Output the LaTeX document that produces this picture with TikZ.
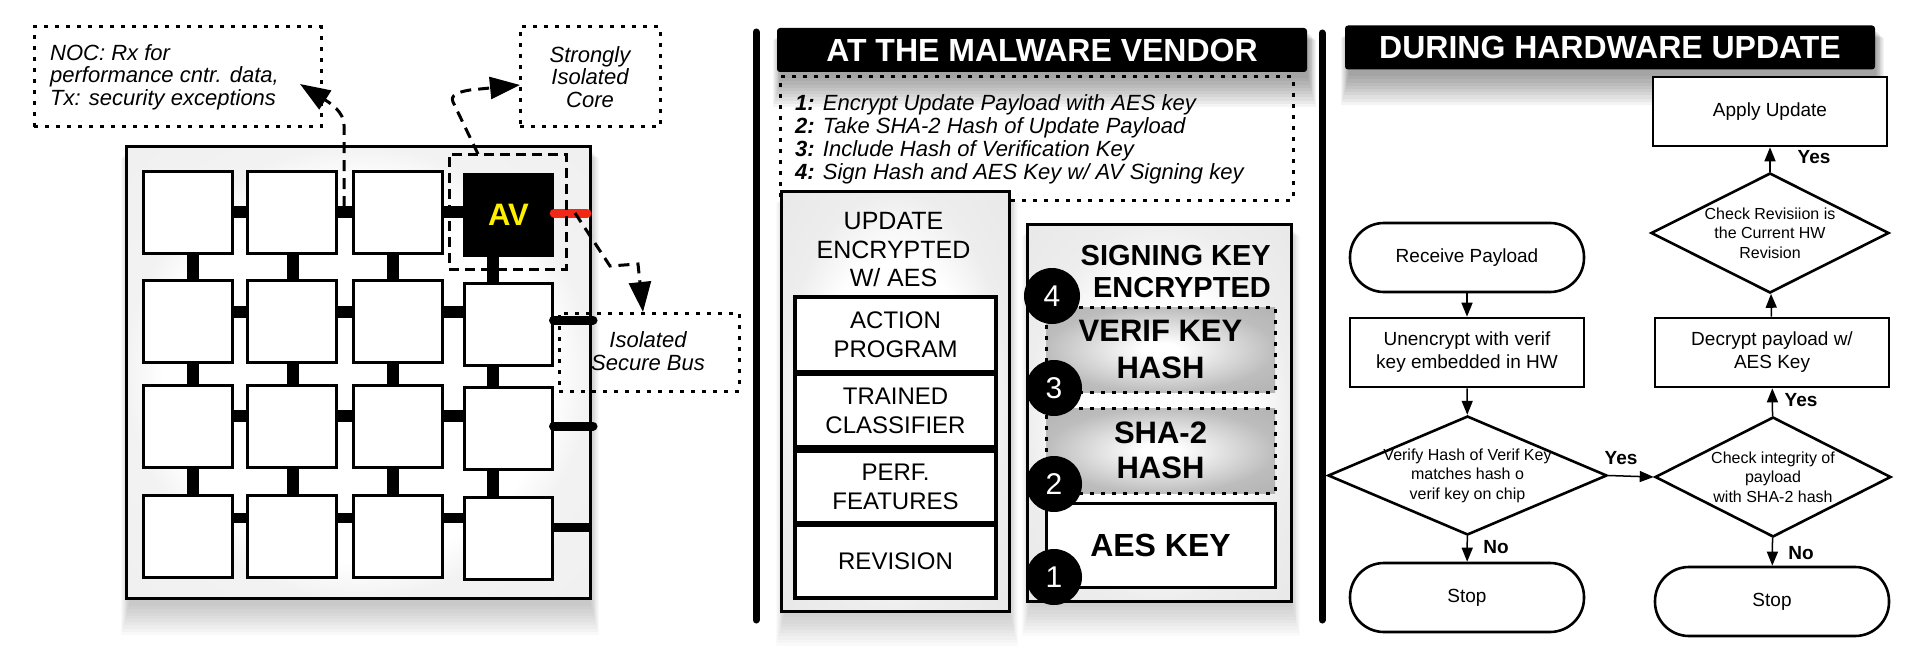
\documentclass[tikz,border=0pt]{standalone}
\usepackage{fontspec}
\setmainfont{Liberation Sans}
\usetikzlibrary{arrows.meta,shapes.geometric}
\newcommand\fsz[2]{\fontsize{#1}{#2}\selectfont}
\newcommand\softshadow[5]{%
  \foreach \k in {1,...,10}{\fill[black,opacity=#5] (#1-\k*0.9,#2+\k*0.8) rectangle (#3+\k*0.9,#4+3+\k*3.2);}}
\definecolor{avyellow}{RGB}{255,240,0}
\definecolor{busred}{RGB}{240,40,20}
\pgfdeclareradialshading{chipglow}{\pgfpoint{0bp}{0bp}}{color(0bp)=(white); color(21bp)=(white); color(25bp)=(black!5); color(36bp)=(black!6); color(50bp)=(black!6)}
\pgfdeclareradialshading{boxglow}{\pgfpoint{0bp}{0bp}}{color(0bp)=(white); color(17bp)=(white); color(25bp)=(black!7); color(36bp)=(black!9); color(50bp)=(black!9)}
\pgfdeclareradialshading{keyshade}{\pgfpoint{0bp}{0bp}}{color(0bp)=(white); color(4bp)=(white); color(25bp)=(black!26); color(36bp)=(black!30); color(50bp)=(black!30)}
\begin{document}
\begin{tikzpicture}[x=1pt,y=-1pt,
  chipbox/.style={draw, line width=3, minimum width=464, minimum height=452, inner sep=0, shade, shading=chipglow},
  core/.style={draw, line width=3, fill=white, minimum width=89, minimum height=82, inner sep=0},
  link/.style={line width=12},
  stub/.style={line width=9, line cap=round},
  dotbox/.style={draw, line width=3, dash pattern=on 4 off 7, inner sep=0},
  dasharr/.style={line width=3, dash pattern=on 11 off 7, -{Triangle[length=30,width=22]}},
  itxt/.style={inner sep=0, font=\itshape\fsz{22}{22.5}},
  titlebar/.style={fill=black, rounded corners=3, minimum width=530, minimum height=44, inner sep=0, text=white, font=\bfseries\fsz{32}{34}},
  ubox/.style={draw, line width=3.5, fill=white, minimum width=201, inner sep=0, align=center, font=\fsz{24}{29}},
  numc/.style={circle, fill=black, minimum size=56, inner sep=0, text=white, font=\fsz{30}{30}},
  fbox/.style={draw, line width=2.6, fill=white, minimum width=234, minimum height=69, inner sep=0, align=center, font=\fsz{19}{23}},
  fterm/.style={fbox, rounded corners=34},
  fdia/.style={draw, diamond, line width=2.6, fill=white, inner sep=0},
  ftxt/.style={align=center, inner sep=0, font=\fsz{16}{19.5}},
  farr/.style={line width=1.5, -{Triangle[length=14,width=11]}},
  flab/.style={inner sep=0, font=\bfseries\fsz{19}{20}}
]
\useasboundingbox (0,0) rectangle (1905,658);

% ================= LEFT: chip =================
\softshadow{130}{150}{590}{600}{0.022}
\node[chipbox] (chip) at (358,372) {};

% cores
\node[core] (c11) at (187.5,212) {};
\node[core] (c12) at (291.5,212) {};
\node[core] (c13) at (398,212) {};
\node[fill=black, minimum width=91, minimum height=84, inner sep=0, text=avyellow, font=\bfseries\fsz{31}{31}] (av) at (508.5,215) {AV};
\node[core] (c21) at (187.5,321.5) {};
\node[core] (c22) at (291.5,321.5) {};
\node[core] (c23) at (398,321.5) {};
\node[core, minimum width=88] (c24) at (508,324.5) {};
\node[core] (c31) at (187.5,426) {};
\node[core] (c32) at (291.5,426) {};
\node[core] (c33) at (398,426) {};
\node[core, minimum width=88] (c34) at (508,428.5) {};
\node[core] (c41) at (187.5,536) {};
\node[core] (c42) at (291.5,536) {};
\node[core] (c43) at (398,536) {};
\node[core, minimum width=88] (c44) at (508,538.5) {};

\coordinate (h1) at (0,212);
\coordinate (h2) at (0,312);
\coordinate (h3) at (0,416);
\coordinate (h4) at (0,518);
\coordinate (v1) at (193,0);
\coordinate (v2) at (293,0);
\coordinate (v3) at (393,0);
\coordinate (v4) at (493,0);

% horizontal links
\draw[link] (c11.east |- h1) -- (c12.west |- h1);
\draw[link] (c12.east |- h1) -- (c13.west |- h1);
\draw[link] (c13.east |- h1) -- (av.west |- h1);
\draw[link] (c21.east |- h2) -- (c22.west |- h2);
\draw[link] (c22.east |- h2) -- (c23.west |- h2);
\draw[link] (c23.east |- h2) -- (c24.west |- h2);
\draw[link] (c31.east |- h3) -- (c32.west |- h3);
\draw[link] (c32.east |- h3) -- (c33.west |- h3);
\draw[link] (c33.east |- h3) -- (c34.west |- h3);
\draw[link, line width=10] (c41.east |- h4) -- (c42.west |- h4);
\draw[link, line width=10] (c42.east |- h4) -- (c43.west |- h4);
\draw[link, line width=10] (c43.east |- h4) -- (c44.west |- h4);
% vertical links
\draw[link] (c11.south -| v1) -- (c21.north -| v1);
\draw[link] (c12.south -| v2) -- (c22.north -| v2);
\draw[link] (c13.south -| v3) -- (c23.north -| v3);
\draw[link] (av.south -| v4) -- (c24.north -| v4);
\draw[link] (c21.south -| v1) -- (c31.north -| v1);
\draw[link] (c22.south -| v2) -- (c32.north -| v2);
\draw[link] (c23.south -| v3) -- (c33.north -| v3);
\draw[link] (c24.south -| v4) -- (c34.north -| v4);
\draw[link] (c31.south -| v1) -- (c41.north -| v1);
\draw[link] (c32.south -| v2) -- (c42.north -| v2);
\draw[link] (c33.south -| v3) -- (c43.north -| v3);
\draw[link] (c34.south -| v4) -- (c44.north -| v4);

% bus stubs
\coordinate (s1) at (587,213);
\coordinate (s2) at (593,320);
\coordinate (s3) at (593,426);
\coordinate (s4) at (589,527);
\draw[stub, busred] (av.east |- s1) -- (s1);
\draw[stub] (c24.east |- s2) -- (s2);
\draw[stub] (c34.east |- s3) -- (s3);
\draw[line width=9] (c44.east |- s4) -- (s4);

% AV isolation box
\node[draw, line width=3, dash pattern=on 10 off 6, minimum width=117, minimum height=115, inner sep=0] (avbox) at (507.5,211.5) {};

% annotation boxes
\node[dotbox, minimum width=287, minimum height=100] (nocbox) at (177.5,77) {};
\node[itxt, anchor=west, align=left] (noctext) at (50,77) {NOC: Rx for\\performance cntr. data,\\Tx: security exceptions};
\node[dotbox, minimum width=140, minimum height=100] (sicbox) at (590,77) {};
\node[itxt, align=center] (sictext) at (590,77) {Strongly\\Isolated\\Core};
\node[dotbox, minimum width=180, minimum height=78] (busbox) at (649,352) {};
\node[itxt, align=center] (bustext) at (648,351) {Isolated\\Secure Bus};

% dashed arrows
\coordinate (nocA) at (344,207);
\coordinate (nocB) at (300,84);
\draw[dasharr] (nocA) -- (344,125) .. controls (344,112) and (330,103) .. (nocB);
\coordinate (sicA) at (478,154);
\coordinate (sicB) at (520,85);
\draw[dasharr] (sicA) -- (453,102) .. controls (450,95) and (458,92) .. (470,90) -- (sicB);
\coordinate (busA) at (575,213);
\coordinate (busB) at (643,312);
\draw[dasharr] (busA) -- (610,266) -- (638,264) -- (busB);

% ================= MIDDLE =================
\draw[line width=7, line cap=round] (756,32) -- (756,620);
\draw[line width=7, line cap=round] (1322,33) -- (1322,620);

\softshadow{782}{32}{1307}{72}{0.045}
\node[titlebar] (t1) at (1042,50) {AT THE MALWARE VENDOR};

\node[dotbox, minimum width=513, minimum height=123] (stepsbox) at (1036.5,138.5) {};
\node[itxt, font=\itshape\fsz{22}{23}, anchor=west, align=left] (steps) at (795,139) {\textbf{1:} Encrypt Update Payload with AES key\\\textbf{2:} Take SHA-2 Hash of Update Payload\\\textbf{3:} Include Hash of Verification Key\\\textbf{4:} Sign Hash and AES Key w/ AV Signing key};

\softshadow{785}{195}{1009}{611}{0.018}
\softshadow{1031}{228}{1291}{601}{0.018}

\node[draw, line width=3, minimum width=228, minimum height=420, inner sep=0, shade, shading=boxglow] (upd) at (895,401) {};
\node[align=center, inner sep=0, font=\fsz{25}{28.5}] (updtext) at (893.5,250) {UPDATE\\ENCRYPTED\\W/ AES};
\node[ubox, minimum height=75] (act) at (895.5,334.5) {ACTION\\PROGRAM};
\node[ubox, minimum height=73] (trn) at (895.5,410.5) {TRAINED\\CLASSIFIER};
\node[ubox, minimum height=72] (perf) at (895.5,487) {PERF.\\FEATURES};
\node[ubox, minimum height=73] (rev) at (895.5,561.5) {REVISION};

\node[draw, line width=3, minimum width=264, minimum height=377, inner sep=0, shade, shading=boxglow] (sign) at (1159,412.5) {};
\node[anchor=east, align=right, inner sep=0, font=\bfseries\fsz{29}{32}] (signtext) at (1271,272) {SIGNING KEY\\ENCRYPTED};
\node[dotbox, minimum width=229, minimum height=85, shade, shading=keyshade, align=center, font=\bfseries\fsz{31}{37}] (verif) at (1160.5,349.5) {VERIF KEY\\HASH};
\node[dotbox, minimum width=229, minimum height=85, shade, shading=keyshade, align=center, font=\bfseries\fsz{31}{35}] (sha) at (1160.5,450.5) {SHA-2\\HASH};
\node[draw, line width=3, fill=white, minimum width=229, minimum height=84, inner sep=0, font=\bfseries\fsz{32}{34}] (aes) at (1160.5,545) {AES KEY};

\node[numc] (n4) at (1052,296) {4};
\node[numc] (n3) at (1054,388) {3};
\node[numc] (n2) at (1054,484) {2};
\node[numc] (n1) at (1054,577) {1};

% ================= RIGHT: flowchart =================
\softshadow{1350}{30}{1875}{70}{0.045}
\node[titlebar] (t2) at (1610,47.5) {DURING HARDWARE UPDATE};

\node[fbox] (apply) at (1770,111.5) {Apply Update};
\node[fdia, minimum width=238, minimum height=120] (revchk) at (1770,233) {};
\node[ftxt] (revtxt) at (revchk.center) {Check Revisiion is\\the Current HW\\Revision};
\node[fbox] (decr) at (1772,352.5) {Decrypt payload w/\\AES Key};
\node[fdia, minimum width=236, minimum height=120] (integ) at (1773,477) {};
\node[ftxt] (integtxt) at (integ.center) {Check integrity of\\payload\\with SHA-2 hash};
\node[fterm] (stop2) at (1772,601.5) {Stop};

\node[fterm] (recv) at (1467,257.5) {Receive Payload};
\node[fbox] (unenc) at (1467,352.5) {Unencrypt with verif\\key embedded in HW};
\node[fdia, minimum width=279, minimum height=119] (verify) at (1467.5,475.5) {};
\node[ftxt] (verifytxt) at (verify.center) {Verify Hash of Verif Key\\matches hash o\\verif key on chip};
\node[fterm] (stop1) at (1467,597.5) {Stop};

\draw[farr] (recv) -- (unenc);
\draw[farr] (unenc) -- (verify);
\draw[farr] (verify) -- (stop1);
\draw[farr] (verify.east) -- (integ.west);
\draw[farr] (integ) -- (decr);
\draw[farr] (integ) -- (stop2);
\draw[farr] (decr) -- (revchk);
\draw[farr] (revchk) -- (apply);

\node[flab] (y1) at (1814,157) {Yes};
\node[flab] (y2) at (1621,458) {Yes};
\node[flab] (y3) at (1801,400) {Yes};
\node[flab] (no1) at (1496,547) {No};
\node[flab] (no2) at (1801,553) {No};
\end{tikzpicture}
\end{document}
